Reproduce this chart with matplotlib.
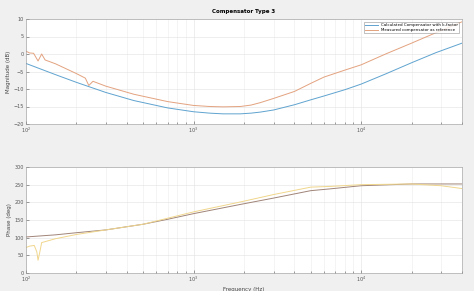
import matplotlib
matplotlib.use("Agg")
import matplotlib.pyplot as plt
from matplotlib.ticker import LogLocator, NullFormatter

# magnitude (dB)
f_calc = [100, 150, 200, 250, 300, 440, 700, 1000, 1250, 1500, 1900, 2200,
          2500, 3000, 4000, 5000, 6000, 8000, 10000, 14000, 20000, 28000, 40000]
mag_calc = [-2.7, -5.9, -8.1, -9.7, -11.0, -13.3, -15.4, -16.5, -16.9, -17.1,
            -17.1, -16.9, -16.6, -16.0, -14.5, -13.1, -12.0, -10.2, -8.6, -5.7,
            -2.5, 0.4, 3.1]

f_meas = [100, 105, 111, 118, 124, 130, 150, 200, 226, 237, 251, 300, 440,
          700, 1000, 1250, 1500, 1900, 2200, 2500, 3000, 4000, 5000, 6000,
          8000, 10000, 14000, 20000, 28000, 40000]
mag_meas = [0.8, 0.3, 0.2, -2.0, 0.0, -1.7, -2.8, -5.6, -6.9, -9.0, -7.8, -9.2,
            -11.5, -13.6, -14.7, -15.0, -15.1, -15.0, -14.6, -13.9, -12.7,
            -10.7, -8.4, -6.6, -4.6, -3.1, 0.0, 3.1, 6.1, 9.2]

# phase (deg)
fp_calc = [100, 150, 200, 300, 500, 700, 1000, 1900, 3000, 5000, 6500,
           10000, 20000, 40000]
ph_calc = [102, 108, 114, 122, 138, 152, 168, 194, 212, 233, 238, 247, 252, 252]

fp_meas = [100, 105, 112, 116, 118, 121, 124, 150, 200, 300, 500, 700, 1000,
           1900, 3000, 5000, 6500, 10000, 20000, 30000, 40000]
ph_meas = [72, 76, 78, 60, 36, 60, 86, 97, 109, 122, 138, 155, 173, 201, 222,
           243, 245, 250, 252, 247, 239]

bg = "#f0f0f0"
c_blue = "#5fa3cf"
c_orange = "#e3a27f"
c_dark = "#a08478"
c_yellow = "#f0d68c"

fig = plt.figure(figsize=(4.74, 2.91), dpi=100, facecolor=bg)
ax1 = fig.add_axes([26 / 474, 1 - 124 / 291, 436 / 474, 105 / 291])
ax2 = fig.add_axes([26 / 474, 1 - 273 / 291, 436 / 474, 106 / 291])

ax1.semilogx(f_calc, mag_calc, color=c_blue, lw=0.7,
             label="Calculated Compensator with k-factor")
ax1.semilogx(f_meas, mag_meas, color=c_orange, lw=0.7,
             label="Measured compensator as reference")
ax2.semilogx(fp_calc, ph_calc, color=c_dark, lw=0.7)
ax2.semilogx(fp_meas, ph_meas, color=c_yellow, lw=0.7)

ax1.set_ylim(-20, 10)
ax1.set_yticks(range(-20, 11, 5))
ax2.set_ylim(0, 300)
ax2.set_yticks(range(0, 301, 50))

for ax in (ax1, ax2):
    ax.set_xlim(100, 40000)
    ax.xaxis.set_major_locator(LogLocator(base=10))
    ax.xaxis.set_minor_locator(LogLocator(base=10, subs=range(2, 10)))
    ax.xaxis.set_minor_formatter(NullFormatter())
    ax.grid(True, which="major", color="#e2e2e2", lw=0.4)
    ax.grid(True, which="minor", axis="x", color="#ececec", lw=0.4)
    ax.set_axisbelow(True)
    ax.tick_params(which="both", direction="in", labelsize=3.5,
                   colors="#555555", width=0.4, pad=1.5)
    ax.tick_params(which="major", length=2)
    ax.tick_params(which="minor", length=1.2)
    for s in ax.spines.values():
        s.set_color("#999999")
        s.set_linewidth(0.4)

ax1.set_ylabel("Magnitude (dB)", fontsize=4, color="#444444", labelpad=2)
ax2.set_ylabel("Phase (deg)", fontsize=4, color="#444444", labelpad=2)
ax2.set_xlabel("Frequency (Hz)", fontsize=4, color="#444444", labelpad=2)
ax1.set_title("Compensator Type 3", fontsize=4, fontweight="bold", pad=4)

leg = ax1.legend(loc="upper right", fontsize=2.9, frameon=True, fancybox=False,
                 borderpad=0.3, handlelength=3.2, labelspacing=0.25,
                 borderaxespad=0.7)
leg.get_frame().set_linewidth(0.4)
leg.get_frame().set_edgecolor("#777777")

fig.savefig("out.png", dpi=100, facecolor=bg)
